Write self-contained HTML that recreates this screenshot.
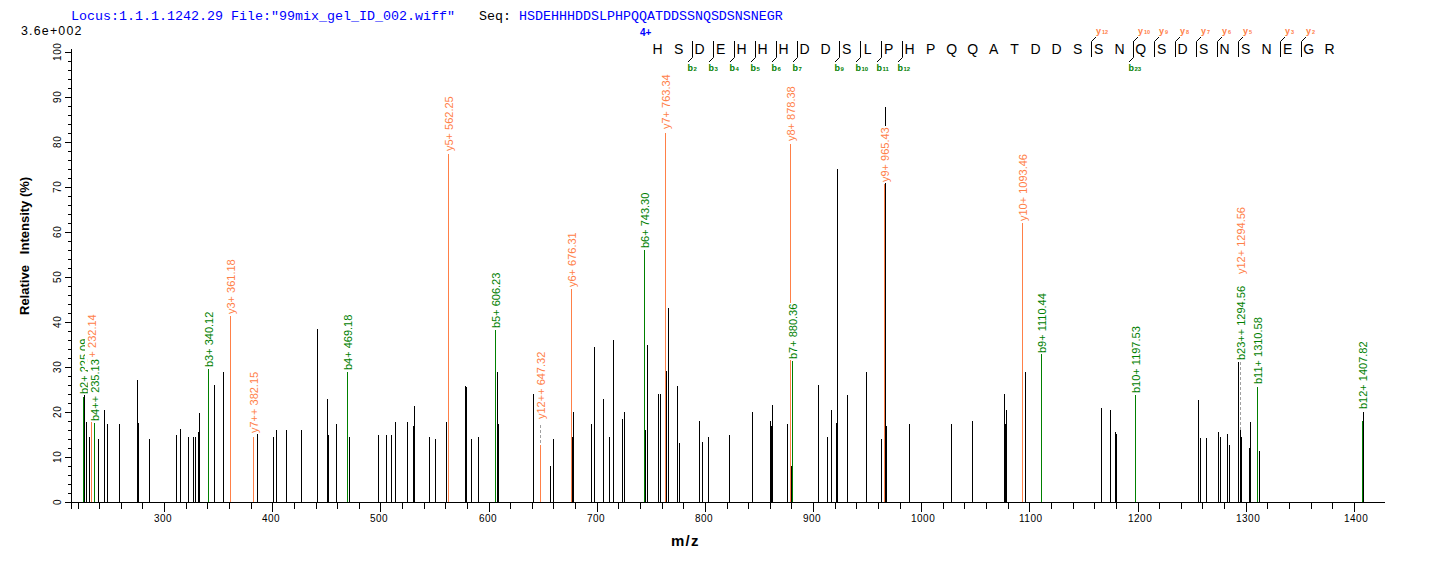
<!DOCTYPE html><html><head><meta charset="utf-8"><style>
html,body{margin:0;padding:0;background:#fff;}
body{width:1436px;height:562px;position:relative;overflow:hidden;font-family:"Liberation Sans",sans-serif;}
.hdr{position:absolute;left:71px;top:9px;font-family:"Liberation Mono",monospace;font-size:13.33px;line-height:16px;white-space:pre;color:#0000ff;}
.hdr b{font-weight:normal;color:#000;}
.lab{position:absolute;transform-origin:0 0;transform:rotate(-90deg);background:#fff;font-size:11px;line-height:15px;height:15px;white-space:nowrap;padding:0 1px 0 1px;}
.yl{position:absolute;transform-origin:0 0;transform:rotate(-90deg);font-size:10px;line-height:10px;white-space:nowrap;letter-spacing:0.6px;}
.seq{position:absolute;font-size:14px;line-height:14px;top:42px;width:21px;text-align:center;}
svg{position:absolute;left:0;top:0;}
</style></head><body>

<svg width="1436" height="562" shape-rendering="crispEdges" font-family="Liberation Sans"><rect x="84" y="395" width="1" height="107" fill="#000"/><rect x="86" y="422" width="1" height="80" fill="#000"/><rect x="89" y="437" width="1" height="65" fill="#000"/><rect x="98" y="439" width="1" height="63" fill="#000"/><rect x="104" y="410" width="1" height="92" fill="#000"/><rect x="107" y="424" width="1" height="78" fill="#000"/><rect x="119" y="424" width="1" height="78" fill="#000"/><rect x="137" y="380" width="1" height="122" fill="#000"/><rect x="138" y="423" width="1" height="79" fill="#000"/><rect x="149" y="439" width="1" height="63" fill="#000"/><rect x="176" y="435" width="1" height="67" fill="#000"/><rect x="180" y="429" width="1" height="73" fill="#000"/><rect x="188" y="437" width="1" height="65" fill="#000"/><rect x="193" y="437" width="1" height="65" fill="#000"/><rect x="195" y="437" width="1" height="65" fill="#000"/><rect x="198" y="432" width="1" height="70" fill="#000"/><rect x="199" y="413" width="1" height="89" fill="#000"/><rect x="214" y="385" width="1" height="117" fill="#000"/><rect x="223" y="372" width="1" height="130" fill="#000"/><rect x="257" y="434" width="1" height="68" fill="#000"/><rect x="273" y="437" width="1" height="65" fill="#000"/><rect x="276" y="430" width="1" height="72" fill="#000"/><rect x="286" y="430" width="1" height="72" fill="#000"/><rect x="301" y="430" width="1" height="72" fill="#000"/><rect x="317" y="329" width="1" height="173" fill="#000"/><rect x="327" y="399" width="1" height="103" fill="#000"/><rect x="328" y="435" width="1" height="67" fill="#000"/><rect x="336" y="424" width="1" height="78" fill="#000"/><rect x="349" y="437" width="1" height="65" fill="#000"/><rect x="378" y="435" width="1" height="67" fill="#000"/><rect x="386" y="435" width="1" height="67" fill="#000"/><rect x="391" y="435" width="1" height="67" fill="#000"/><rect x="395" y="422" width="1" height="80" fill="#000"/><rect x="407" y="422" width="1" height="80" fill="#000"/><rect x="413" y="426" width="1" height="76" fill="#000"/><rect x="414" y="406" width="1" height="96" fill="#000"/><rect x="429" y="437" width="1" height="65" fill="#000"/><rect x="435" y="439" width="1" height="63" fill="#000"/><rect x="446" y="422" width="1" height="80" fill="#000"/><rect x="465" y="386" width="1" height="116" fill="#000"/><rect x="466" y="387" width="1" height="115" fill="#000"/><rect x="471" y="439" width="1" height="63" fill="#000"/><rect x="478" y="437" width="1" height="65" fill="#000"/><rect x="497" y="372" width="1" height="130" fill="#000"/><rect x="498" y="424" width="1" height="78" fill="#000"/><rect x="533" y="394" width="1" height="108" fill="#000"/><rect x="550" y="466" width="1" height="36" fill="#000"/><rect x="553" y="439" width="1" height="63" fill="#000"/><rect x="572" y="437" width="1" height="65" fill="#000"/><rect x="573" y="412" width="1" height="90" fill="#000"/><rect x="591" y="424" width="1" height="78" fill="#000"/><rect x="594" y="347" width="1" height="155" fill="#000"/><rect x="603" y="399" width="1" height="103" fill="#000"/><rect x="609" y="437" width="1" height="65" fill="#000"/><rect x="613" y="340" width="1" height="162" fill="#000"/><rect x="622" y="419" width="1" height="83" fill="#000"/><rect x="624" y="412" width="1" height="90" fill="#000"/><rect x="645" y="430" width="1" height="72" fill="#000"/><rect x="647" y="345" width="1" height="157" fill="#000"/><rect x="658" y="394" width="1" height="108" fill="#000"/><rect x="660" y="394" width="1" height="108" fill="#000"/><rect x="666" y="371" width="1" height="131" fill="#000"/><rect x="668" y="308" width="1" height="194" fill="#000"/><rect x="677" y="386" width="1" height="116" fill="#000"/><rect x="679" y="443" width="1" height="59" fill="#000"/><rect x="699" y="421" width="1" height="81" fill="#000"/><rect x="702" y="442" width="1" height="60" fill="#000"/><rect x="708" y="437" width="1" height="65" fill="#000"/><rect x="729" y="435" width="1" height="67" fill="#000"/><rect x="752" y="412" width="1" height="90" fill="#000"/><rect x="770" y="421" width="1" height="81" fill="#000"/><rect x="771" y="426" width="1" height="76" fill="#000"/><rect x="772" y="405" width="1" height="97" fill="#000"/><rect x="787" y="424" width="1" height="78" fill="#000"/><rect x="791" y="466" width="1" height="36" fill="#000"/><rect x="818" y="385" width="1" height="117" fill="#000"/><rect x="827" y="437" width="1" height="65" fill="#000"/><rect x="831" y="410" width="1" height="92" fill="#000"/><rect x="836" y="423" width="1" height="79" fill="#000"/><rect x="837" y="169" width="1" height="333" fill="#000"/><rect x="847" y="395" width="1" height="107" fill="#000"/><rect x="866" y="372" width="1" height="130" fill="#000"/><rect x="881" y="439" width="1" height="63" fill="#000"/><rect x="885" y="107" width="1" height="395" fill="#000"/><rect x="886" y="426" width="1" height="76" fill="#000"/><rect x="909" y="424" width="1" height="78" fill="#000"/><rect x="951" y="424" width="1" height="78" fill="#000"/><rect x="972" y="421" width="1" height="81" fill="#000"/><rect x="1004" y="394" width="1" height="108" fill="#000"/><rect x="1005" y="424" width="1" height="78" fill="#000"/><rect x="1006" y="410" width="1" height="92" fill="#000"/><rect x="1025" y="372" width="1" height="130" fill="#000"/><rect x="1101" y="408" width="1" height="94" fill="#000"/><rect x="1110" y="410" width="1" height="92" fill="#000"/><rect x="1115" y="432" width="1" height="70" fill="#000"/><rect x="1116" y="434" width="1" height="68" fill="#000"/><rect x="1198" y="400" width="1" height="102" fill="#000"/><rect x="1200" y="438" width="1" height="64" fill="#000"/><rect x="1206" y="438" width="1" height="64" fill="#000"/><rect x="1218" y="432" width="1" height="70" fill="#000"/><rect x="1220" y="437" width="1" height="65" fill="#000"/><rect x="1227" y="434" width="1" height="68" fill="#000"/><rect x="1229" y="445" width="1" height="57" fill="#000"/><rect x="1238" y="362" width="1" height="140" fill="#000"/><rect x="1240" y="430" width="1" height="72" fill="#000"/><rect x="1241" y="437" width="1" height="65" fill="#000"/><rect x="1249" y="448" width="1" height="54" fill="#000"/><rect x="1250" y="422" width="1" height="80" fill="#000"/><rect x="1259" y="451" width="1" height="51" fill="#000"/><rect x="1363" y="412" width="1" height="90" fill="#000"/><rect x="83" y="397" width="1" height="105" fill="#008000"/><rect x="91" y="421" width="1" height="81" fill="#ff8048"/><rect x="94" y="423" width="1" height="79" fill="#008000"/><rect x="208" y="369" width="1" height="133" fill="#008000"/><rect x="230" y="316" width="1" height="186" fill="#ff8048"/><rect x="253" y="437" width="1" height="65" fill="#ff8048"/><rect x="347" y="372" width="1" height="130" fill="#008000"/><rect x="448" y="154" width="1" height="348" fill="#ff8048"/><rect x="495" y="330" width="1" height="172" fill="#008000"/><rect x="540" y="445" width="1" height="57" fill="#ff8048"/><rect x="571" y="289" width="1" height="213" fill="#ff8048"/><rect x="644" y="250" width="1" height="252" fill="#008000"/><rect x="665" y="133" width="1" height="369" fill="#ff8048"/><rect x="790" y="144" width="1" height="358" fill="#ff8048"/><rect x="792" y="361" width="1" height="141" fill="#008000"/><rect x="884" y="184" width="1" height="318" fill="#ff8048"/><rect x="1022" y="223" width="1" height="279" fill="#ff8048"/><rect x="1041" y="354" width="1" height="148" fill="#008000"/><rect x="1135" y="395" width="1" height="107" fill="#008000"/><rect x="1257" y="387" width="1" height="115" fill="#008000"/><rect x="1362" y="421" width="1" height="81" fill="#008000"/><line x1="540.5" y1="425" x2="540.5" y2="445" stroke="#a0a0a0" stroke-width="1" stroke-dasharray="3,2"/><line x1="1240.5" y1="362" x2="1240.5" y2="430" stroke="#a0a0a0" stroke-width="1" stroke-dasharray="3,2"/><rect x="71" y="49" width="1" height="454" fill="#000"/><rect x="71" y="502" width="1314" height="1" fill="#000"/><rect x="65" y="502" width="6" height="1" fill="#000"/><rect x="68" y="493" width="3" height="1" fill="#000"/><rect x="68" y="484" width="3" height="1" fill="#000"/><rect x="68" y="475" width="3" height="1" fill="#000"/><rect x="68" y="466" width="3" height="1" fill="#000"/><rect x="65" y="457" width="6" height="1" fill="#000"/><rect x="68" y="448" width="3" height="1" fill="#000"/><rect x="68" y="439" width="3" height="1" fill="#000"/><rect x="68" y="430" width="3" height="1" fill="#000"/><rect x="68" y="421" width="3" height="1" fill="#000"/><rect x="65" y="412" width="6" height="1" fill="#000"/><rect x="68" y="403" width="3" height="1" fill="#000"/><rect x="68" y="394" width="3" height="1" fill="#000"/><rect x="68" y="385" width="3" height="1" fill="#000"/><rect x="68" y="376" width="3" height="1" fill="#000"/><rect x="65" y="367" width="6" height="1" fill="#000"/><rect x="68" y="358" width="3" height="1" fill="#000"/><rect x="68" y="349" width="3" height="1" fill="#000"/><rect x="68" y="340" width="3" height="1" fill="#000"/><rect x="68" y="331" width="3" height="1" fill="#000"/><rect x="65" y="322" width="6" height="1" fill="#000"/><rect x="68" y="313" width="3" height="1" fill="#000"/><rect x="68" y="304" width="3" height="1" fill="#000"/><rect x="68" y="295" width="3" height="1" fill="#000"/><rect x="68" y="286" width="3" height="1" fill="#000"/><rect x="65" y="277" width="6" height="1" fill="#000"/><rect x="68" y="268" width="3" height="1" fill="#000"/><rect x="68" y="259" width="3" height="1" fill="#000"/><rect x="68" y="250" width="3" height="1" fill="#000"/><rect x="68" y="241" width="3" height="1" fill="#000"/><rect x="65" y="232" width="6" height="1" fill="#000"/><rect x="68" y="223" width="3" height="1" fill="#000"/><rect x="68" y="214" width="3" height="1" fill="#000"/><rect x="68" y="205" width="3" height="1" fill="#000"/><rect x="68" y="196" width="3" height="1" fill="#000"/><rect x="65" y="187" width="6" height="1" fill="#000"/><rect x="68" y="178" width="3" height="1" fill="#000"/><rect x="68" y="169" width="3" height="1" fill="#000"/><rect x="68" y="160" width="3" height="1" fill="#000"/><rect x="68" y="151" width="3" height="1" fill="#000"/><rect x="65" y="142" width="6" height="1" fill="#000"/><rect x="68" y="133" width="3" height="1" fill="#000"/><rect x="68" y="124" width="3" height="1" fill="#000"/><rect x="68" y="115" width="3" height="1" fill="#000"/><rect x="68" y="106" width="3" height="1" fill="#000"/><rect x="65" y="97" width="6" height="1" fill="#000"/><rect x="68" y="88" width="3" height="1" fill="#000"/><rect x="68" y="79" width="3" height="1" fill="#000"/><rect x="68" y="70" width="3" height="1" fill="#000"/><rect x="68" y="61" width="3" height="1" fill="#000"/><rect x="65" y="52" width="6" height="1" fill="#000"/><rect x="78" y="503" width="1" height="6" fill="#000"/><rect x="99" y="503" width="1" height="6" fill="#000"/><rect x="121" y="503" width="1" height="6" fill="#000"/><rect x="142" y="503" width="1" height="6" fill="#000"/><rect x="164" y="503" width="1" height="9" fill="#000"/><text x="154" y="522" font-size="10" letter-spacing="0.5">300</text><rect x="186" y="503" width="1" height="6" fill="#000"/><rect x="207" y="503" width="1" height="6" fill="#000"/><rect x="229" y="503" width="1" height="6" fill="#000"/><rect x="251" y="503" width="1" height="6" fill="#000"/><rect x="272" y="503" width="1" height="9" fill="#000"/><text x="262" y="522" font-size="10" letter-spacing="0.5">400</text><rect x="294" y="503" width="1" height="6" fill="#000"/><rect x="316" y="503" width="1" height="6" fill="#000"/><rect x="337" y="503" width="1" height="6" fill="#000"/><rect x="359" y="503" width="1" height="6" fill="#000"/><rect x="380" y="503" width="1" height="9" fill="#000"/><text x="370" y="522" font-size="10" letter-spacing="0.5">500</text><rect x="402" y="503" width="1" height="6" fill="#000"/><rect x="424" y="503" width="1" height="6" fill="#000"/><rect x="445" y="503" width="1" height="6" fill="#000"/><rect x="467" y="503" width="1" height="6" fill="#000"/><rect x="489" y="503" width="1" height="9" fill="#000"/><text x="479" y="522" font-size="10" letter-spacing="0.5">600</text><rect x="510" y="503" width="1" height="6" fill="#000"/><rect x="532" y="503" width="1" height="6" fill="#000"/><rect x="553" y="503" width="1" height="6" fill="#000"/><rect x="575" y="503" width="1" height="6" fill="#000"/><rect x="597" y="503" width="1" height="9" fill="#000"/><text x="587" y="522" font-size="10" letter-spacing="0.5">700</text><rect x="618" y="503" width="1" height="6" fill="#000"/><rect x="640" y="503" width="1" height="6" fill="#000"/><rect x="662" y="503" width="1" height="6" fill="#000"/><rect x="683" y="503" width="1" height="6" fill="#000"/><rect x="705" y="503" width="1" height="9" fill="#000"/><text x="695" y="522" font-size="10" letter-spacing="0.5">800</text><rect x="727" y="503" width="1" height="6" fill="#000"/><rect x="748" y="503" width="1" height="6" fill="#000"/><rect x="770" y="503" width="1" height="6" fill="#000"/><rect x="791" y="503" width="1" height="6" fill="#000"/><rect x="813" y="503" width="1" height="9" fill="#000"/><text x="803" y="522" font-size="10" letter-spacing="0.5">900</text><rect x="835" y="503" width="1" height="6" fill="#000"/><rect x="856" y="503" width="1" height="6" fill="#000"/><rect x="878" y="503" width="1" height="6" fill="#000"/><rect x="900" y="503" width="1" height="6" fill="#000"/><rect x="921" y="503" width="1" height="9" fill="#000"/><text x="911" y="522" font-size="10" letter-spacing="0.5">1000</text><rect x="943" y="503" width="1" height="6" fill="#000"/><rect x="964" y="503" width="1" height="6" fill="#000"/><rect x="986" y="503" width="1" height="6" fill="#000"/><rect x="1008" y="503" width="1" height="6" fill="#000"/><rect x="1029" y="503" width="1" height="9" fill="#000"/><text x="1019" y="522" font-size="10" letter-spacing="0.5">1100</text><rect x="1051" y="503" width="1" height="6" fill="#000"/><rect x="1073" y="503" width="1" height="6" fill="#000"/><rect x="1094" y="503" width="1" height="6" fill="#000"/><rect x="1116" y="503" width="1" height="6" fill="#000"/><rect x="1138" y="503" width="1" height="9" fill="#000"/><text x="1128" y="522" font-size="10" letter-spacing="0.5">1200</text><rect x="1159" y="503" width="1" height="6" fill="#000"/><rect x="1181" y="503" width="1" height="6" fill="#000"/><rect x="1202" y="503" width="1" height="6" fill="#000"/><rect x="1224" y="503" width="1" height="6" fill="#000"/><rect x="1246" y="503" width="1" height="9" fill="#000"/><text x="1236" y="522" font-size="10" letter-spacing="0.5">1300</text><rect x="1267" y="503" width="1" height="6" fill="#000"/><rect x="1289" y="503" width="1" height="6" fill="#000"/><rect x="1311" y="503" width="1" height="6" fill="#000"/><rect x="1332" y="503" width="1" height="6" fill="#000"/><rect x="1354" y="503" width="1" height="9" fill="#000"/><text x="1344" y="522" font-size="10" letter-spacing="0.5">1400</text><rect x="71" y="503" width="1" height="6" fill="#000"/></svg>
<div class="hdr">Locus:1.1.1.1242.29 File:"99mix_gel_ID_002.wiff"   <b>Seq:</b> HSDEHHHDDSLPHPQQATDDSSNQSDSNSNEGR</div>
<div style="position:absolute;left:21px;top:25px;font-size:12.4px;line-height:13px;letter-spacing:1.2px;">3.6e+002</div>
<div class="yl" style="left:53px;top:505.3px;">0</div>
<div class="yl" style="left:53px;top:463.4px;">10</div>
<div class="yl" style="left:53px;top:418.4px;">20</div>
<div class="yl" style="left:53px;top:373.4px;">30</div>
<div class="yl" style="left:53px;top:328.4px;">40</div>
<div class="yl" style="left:53px;top:283.4px;">50</div>
<div class="yl" style="left:53px;top:238.4px;">60</div>
<div class="yl" style="left:53px;top:193.4px;">70</div>
<div class="yl" style="left:53px;top:148.4px;">80</div>
<div class="yl" style="left:53px;top:103.4px;">90</div>
<div class="yl" style="left:53px;top:61.4px;">100</div>
<div style="position:absolute;left:17px;top:315px;transform-origin:0 0;transform:rotate(-90deg);font-weight:bold;font-size:13px;line-height:15px;white-space:pre;">Relative<span style="display:inline-block;width:11px"></span>Intensity (%)</div>
<div style="position:absolute;left:671px;top:533px;font-weight:bold;font-size:15px;line-height:15px;letter-spacing:1.2px;">m/z</div>
<div class="lab" style="left:76.5px;top:395.0px;color:#008000">b2+ 225.09</div>
<div class="lab" style="left:84.5px;top:369.5px;color:#ff8048">y2+ 232.14</div>
<div class="lab" style="left:87.5px;top:421.5px;color:#008000">b4++ 235.13</div>
<div class="lab" style="left:201.5px;top:367.5px;color:#008000">b3+ 340.12</div>
<div class="lab" style="left:223.5px;top:314.5px;color:#ff8048">y3+ 361.18</div>
<div class="lab" style="left:246.5px;top:434.0px;color:#ff8048">y7++ 382.15</div>
<div class="lab" style="left:340.5px;top:370.5px;color:#008000">b4+ 469.18</div>
<div class="lab" style="left:441.5px;top:151.5px;color:#ff8048">y5+ 562.25</div>
<div class="lab" style="left:488.5px;top:328.5px;color:#008000">b5+ 606.23</div>
<div class="lab" style="left:533.5px;top:419.5px;color:#ff8048">y12++ 647.32</div>
<div class="lab" style="left:564.5px;top:287.5px;color:#ff8048">y6+ 676.31</div>
<div class="lab" style="left:637.5px;top:248.5px;color:#008000">b6+ 743.30</div>
<div class="lab" style="left:658.5px;top:129.5px;color:#ff8048">y7+ 763.34</div>
<div class="lab" style="left:783.5px;top:141.5px;color:#ff8048">y8+ 878.38</div>
<div class="lab" style="left:785.5px;top:359.5px;color:#008000">b7+ 880.36</div>
<div class="lab" style="left:877.5px;top:182.5px;color:#ff8048">y9+ 965.43</div>
<div class="lab" style="left:1015.5px;top:221.5px;color:#ff8048">y10+ 1093.46</div>
<div class="lab" style="left:1034.5px;top:353.5px;color:#008000">b9+ 1110.44</div>
<div class="lab" style="left:1128.5px;top:393.5px;color:#008000">b10+ 1197.53</div>
<div class="lab" style="left:1233.5px;top:360.5px;color:#008000">b23++ 1294.56</div>
<div class="lab" style="left:1233.5px;top:274.5px;color:#ff8048">y12+ 1294.56</div>
<div class="lab" style="left:1250.5px;top:384.5px;color:#008000">b11+ 1310.58</div>
<div class="lab" style="left:1355.5px;top:409.5px;color:#008000">b12+ 1407.82</div>
<div style="position:absolute;left:640px;top:28px;color:#0000ff;font-weight:bold;font-size:10px;line-height:10px;">4+</div>
<div class="seq" style="left:647.1px">H</div>
<div class="seq" style="left:668.1px">S</div>
<div class="seq" style="left:689.1px">D</div>
<div class="seq" style="left:710.1px">E</div>
<div class="seq" style="left:731.1px">H</div>
<div class="seq" style="left:752.1px">H</div>
<div class="seq" style="left:773.1px">H</div>
<div class="seq" style="left:794.1px">D</div>
<div class="seq" style="left:815.1px">D</div>
<div class="seq" style="left:836.1px">S</div>
<div class="seq" style="left:857.1px">L</div>
<div class="seq" style="left:878.1px">P</div>
<div class="seq" style="left:899.1px">H</div>
<div class="seq" style="left:920.1px">P</div>
<div class="seq" style="left:941.1px">Q</div>
<div class="seq" style="left:962.1px">Q</div>
<div class="seq" style="left:983.1px">A</div>
<div class="seq" style="left:1004.1px">T</div>
<div class="seq" style="left:1025.1px">D</div>
<div class="seq" style="left:1046.1px">D</div>
<div class="seq" style="left:1067.1px">S</div>
<div class="seq" style="left:1088.1px">S</div>
<div class="seq" style="left:1109.1px">N</div>
<div class="seq" style="left:1130.1px">Q</div>
<div class="seq" style="left:1151.1px">S</div>
<div class="seq" style="left:1172.1px">D</div>
<div class="seq" style="left:1193.1px">S</div>
<div class="seq" style="left:1214.1px">N</div>
<div class="seq" style="left:1235.1px">S</div>
<div class="seq" style="left:1256.1px">N</div>
<div class="seq" style="left:1277.1px">E</div>
<div class="seq" style="left:1298.1px">G</div>
<div class="seq" style="left:1319.1px">R</div>
<div style="position:absolute;left:687.5px;top:64px;color:#008000;font-weight:bold;font-size:9px;line-height:9px;white-space:nowrap">b<span style="font-size:6px;margin-left:0.5px">2</span></div>
<div style="position:absolute;left:708.5px;top:64px;color:#008000;font-weight:bold;font-size:9px;line-height:9px;white-space:nowrap">b<span style="font-size:6px;margin-left:0.5px">3</span></div>
<div style="position:absolute;left:729.5px;top:64px;color:#008000;font-weight:bold;font-size:9px;line-height:9px;white-space:nowrap">b<span style="font-size:6px;margin-left:0.5px">4</span></div>
<div style="position:absolute;left:750.5px;top:64px;color:#008000;font-weight:bold;font-size:9px;line-height:9px;white-space:nowrap">b<span style="font-size:6px;margin-left:0.5px">5</span></div>
<div style="position:absolute;left:771.5px;top:64px;color:#008000;font-weight:bold;font-size:9px;line-height:9px;white-space:nowrap">b<span style="font-size:6px;margin-left:0.5px">6</span></div>
<div style="position:absolute;left:792.5px;top:64px;color:#008000;font-weight:bold;font-size:9px;line-height:9px;white-space:nowrap">b<span style="font-size:6px;margin-left:0.5px">7</span></div>
<div style="position:absolute;left:834.5px;top:64px;color:#008000;font-weight:bold;font-size:9px;line-height:9px;white-space:nowrap">b<span style="font-size:6px;margin-left:0.5px">9</span></div>
<div style="position:absolute;left:855.5px;top:64px;color:#008000;font-weight:bold;font-size:9px;line-height:9px;white-space:nowrap">b<span style="font-size:6px;margin-left:0.5px">10</span></div>
<div style="position:absolute;left:876.5px;top:64px;color:#008000;font-weight:bold;font-size:9px;line-height:9px;white-space:nowrap">b<span style="font-size:6px;margin-left:0.5px">11</span></div>
<div style="position:absolute;left:897.5px;top:64px;color:#008000;font-weight:bold;font-size:9px;line-height:9px;white-space:nowrap">b<span style="font-size:6px;margin-left:0.5px">12</span></div>
<div style="position:absolute;left:1128.5px;top:64px;color:#008000;font-weight:bold;font-size:9px;line-height:9px;white-space:nowrap">b<span style="font-size:6px;margin-left:0.5px">23</span></div>
<div style="position:absolute;left:1096.0px;top:27px;color:#ff8048;font-weight:bold;font-size:9px;line-height:9px;white-space:nowrap">y<span style="font-size:5.5px;margin-left:1px">12</span></div>
<div style="position:absolute;left:1138.0px;top:27px;color:#ff8048;font-weight:bold;font-size:9px;line-height:9px;white-space:nowrap">y<span style="font-size:5.5px;margin-left:1px">10</span></div>
<div style="position:absolute;left:1159.0px;top:27px;color:#ff8048;font-weight:bold;font-size:9px;line-height:9px;white-space:nowrap">y<span style="font-size:5.5px;margin-left:1px">9</span></div>
<div style="position:absolute;left:1180.0px;top:27px;color:#ff8048;font-weight:bold;font-size:9px;line-height:9px;white-space:nowrap">y<span style="font-size:5.5px;margin-left:1px">8</span></div>
<div style="position:absolute;left:1201.0px;top:27px;color:#ff8048;font-weight:bold;font-size:9px;line-height:9px;white-space:nowrap">y<span style="font-size:5.5px;margin-left:1px">7</span></div>
<div style="position:absolute;left:1222.0px;top:27px;color:#ff8048;font-weight:bold;font-size:9px;line-height:9px;white-space:nowrap">y<span style="font-size:5.5px;margin-left:1px">6</span></div>
<div style="position:absolute;left:1243.0px;top:27px;color:#ff8048;font-weight:bold;font-size:9px;line-height:9px;white-space:nowrap">y<span style="font-size:5.5px;margin-left:1px">5</span></div>
<div style="position:absolute;left:1285.0px;top:27px;color:#ff8048;font-weight:bold;font-size:9px;line-height:9px;white-space:nowrap">y<span style="font-size:5.5px;margin-left:1px">3</span></div>
<div style="position:absolute;left:1306.0px;top:27px;color:#ff8048;font-weight:bold;font-size:9px;line-height:9px;white-space:nowrap">y<span style="font-size:5.5px;margin-left:1px">2</span></div>
<svg width="1436" height="80" style="position:absolute;left:0;top:0"><path d="M692.5 41 V57.5 L688.0 62" stroke="#000" fill="none" stroke-width="1"/><path d="M713.5 41 V57.5 L709.0 62" stroke="#000" fill="none" stroke-width="1"/><path d="M734.5 41 V57.5 L730.0 62" stroke="#000" fill="none" stroke-width="1"/><path d="M755.5 41 V57.5 L751.0 62" stroke="#000" fill="none" stroke-width="1"/><path d="M776.5 41 V57.5 L772.0 62" stroke="#000" fill="none" stroke-width="1"/><path d="M797.5 41 V57.5 L793.0 62" stroke="#000" fill="none" stroke-width="1"/><path d="M839.5 41 V57.5 L835.0 62" stroke="#000" fill="none" stroke-width="1"/><path d="M860.5 41 V57.5 L856.0 62" stroke="#000" fill="none" stroke-width="1"/><path d="M881.5 41 V57.5 L877.0 62" stroke="#000" fill="none" stroke-width="1"/><path d="M902.5 41 V57.5 L898.0 62" stroke="#000" fill="none" stroke-width="1"/><path d="M1133.5 41 V57.5 L1129.0 62" stroke="#000" fill="none" stroke-width="1"/><path d="M1091.5 57 V41.5 L1096.0 37" stroke="#000" fill="none" stroke-width="1"/><path d="M1133.5 57 V41.5 L1138.0 37" stroke="#000" fill="none" stroke-width="1"/><path d="M1154.5 57 V41.5 L1159.0 37" stroke="#000" fill="none" stroke-width="1"/><path d="M1175.5 57 V41.5 L1180.0 37" stroke="#000" fill="none" stroke-width="1"/><path d="M1196.5 57 V41.5 L1201.0 37" stroke="#000" fill="none" stroke-width="1"/><path d="M1217.5 57 V41.5 L1222.0 37" stroke="#000" fill="none" stroke-width="1"/><path d="M1238.5 57 V41.5 L1243.0 37" stroke="#000" fill="none" stroke-width="1"/><path d="M1280.5 57 V41.5 L1285.0 37" stroke="#000" fill="none" stroke-width="1"/><path d="M1301.5 57 V41.5 L1306.0 37" stroke="#000" fill="none" stroke-width="1"/></svg>
</body></html>
